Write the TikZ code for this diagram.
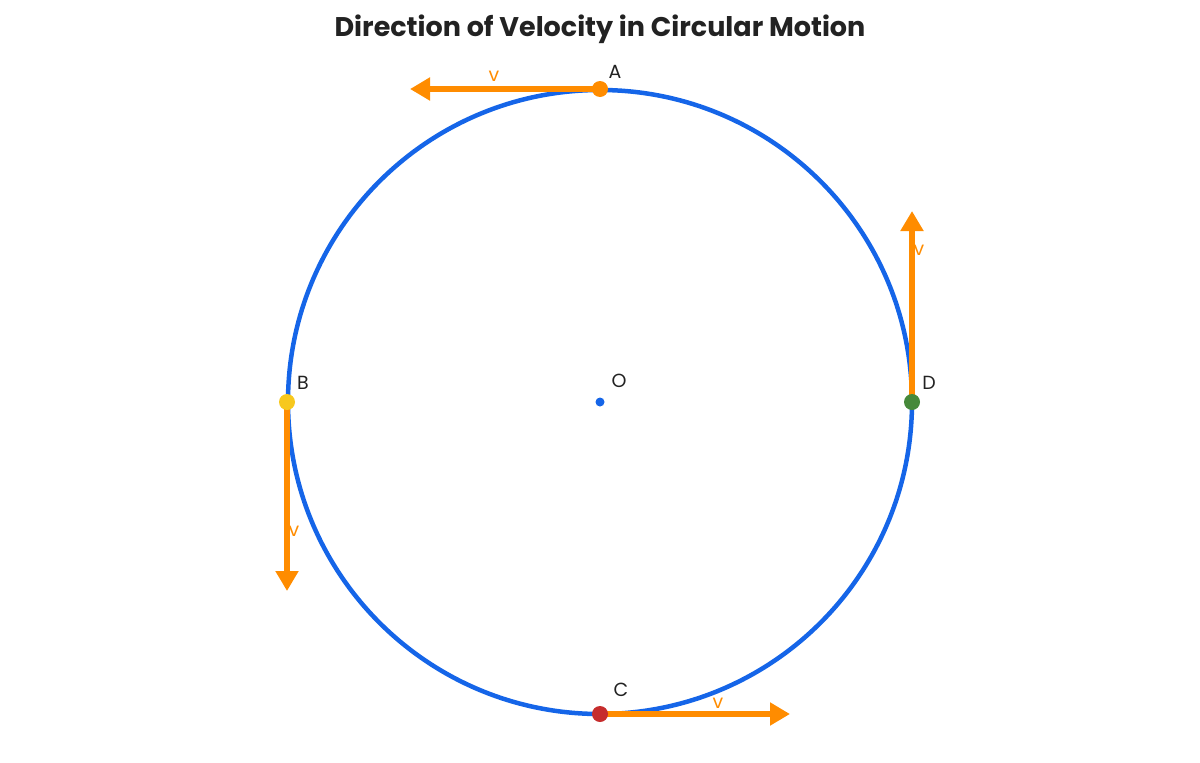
\documentclass[tikz,border=0pt]{standalone}
\usepackage{fontspec}
\setmainfont{Poppins}
\usetikzlibrary{arrows.meta}
\definecolor{cblue}{HTML}{1565E8}
\definecolor{corange}{HTML}{FF8C00}
\definecolor{cyellow}{HTML}{F7C81E}
\definecolor{cred}{HTML}{C62D2D}
\definecolor{cgreen}{HTML}{46893A}
\definecolor{ctext}{HTML}{222222}
\begin{document}
\begin{tikzpicture}[x=1pt,y=-1pt,
  dotnode/.style={circle,inner sep=0pt,minimum size=16pt},
  lbl/.style={text=ctext,font=\fontsize{19}{22}\selectfont,inner sep=0pt},
  vlbl/.style={text=corange,font=\fontsize{19}{22}\selectfont,inner sep=0pt},
  velarrow/.style={draw=corange,line width=5.5pt,-{Triangle[length=20pt,width=22pt]}}]
\useasboundingbox (0,0) rectangle (1200,763);
\node[text=ctext,font=\fontsize{27}{32}\selectfont\bfseries] (title) at (600,29) {Direction of Velocity in Circular Motion};
\draw[cblue,line width=4.5pt] (600,402) circle[radius=312];
\node[circle,fill=cblue,inner sep=0pt,minimum size=9pt] (O) at (600,402) {};
\coordinate (Aend) at (410,89);
\coordinate (Bend) at (287,591);
\coordinate (Cend) at (790,714);
\coordinate (Dend) at (912,211);
\coordinate (Ac) at (600,89);
\coordinate (Bc) at (287,402);
\coordinate (Cc) at (600,714);
\coordinate (Dc) at (912,402);
\draw[velarrow] (Ac) -- (Aend);
\draw[velarrow] (Bc) -- (Bend);
\draw[velarrow] (Cc) -- (Cend);
\draw[velarrow] (Dc) -- (Dend);
\node[dotnode,fill=corange] (A) at (Ac) {};
\node[dotnode,fill=cyellow] (B) at (Bc) {};
\node[dotnode,fill=cred] (C) at (Cc) {};
\node[dotnode,fill=cgreen] (D) at (Dc) {};
\node[lbl] (Al) at (615,72) {A};
\node[lbl] (Bl) at (303,383) {B};
\node[lbl] (Cl) at (621,690) {C};
\node[lbl] (Dl) at (929,383) {D};
\node[lbl] (Ol) at (619,381) {O};
\node[vlbl] (vA) at (494,76) {v};
\node[vlbl] (vB) at (294,531) {v};
\node[vlbl] (vC) at (718,703) {v};
\node[vlbl] (vD) at (919,250) {v};
\end{tikzpicture}
\end{document}
